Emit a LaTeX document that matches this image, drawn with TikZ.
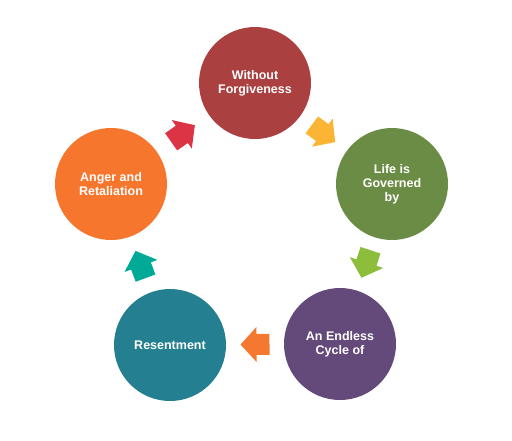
\documentclass[tikz,border=0pt]{standalone}
\usepackage{fontspec}
\setmainfont{Liberation Sans}
\usetikzlibrary{calc}
\definecolor{cred}{RGB}{170,64,64}
\definecolor{cgreen}{RGB}{107,140,68}
\definecolor{cpurple}{RGB}{100,74,122}
\definecolor{cteal}{RGB}{36,128,145}
\definecolor{corange}{RGB}{247,118,46}
\definecolor{ared}{RGB}{220,52,68}
\definecolor{ayellow}{RGB}{252,180,52}
\definecolor{agreen}{RGB}{140,190,60}
\definecolor{aorange}{RGB}{245,120,48}
\definecolor{ateal}{RGB}{0,170,150}
\newcommand\blockarr[3]{%
  \pgfmathanglebetweenpoints{\pgfpointanchor{#1}{center}}{\pgfpointanchor{#2}{center}}%
  \let\arang\pgfmathresult
  \fill[#3, shift={($(#1)!0.5!(#2)$)}, rotate=\arang]
    (-14.5,-10.5) -- (-1.5,-10.5) -- (-1.5,-17.5) -- (14.5,0) -- (-1.5,17.5) -- (-1.5,10.5) -- (-14.5,10.5) -- cycle;}
\begin{document}
\begin{tikzpicture}[x=1pt,y=-1pt,
  stage/.style={circle, minimum size=112pt, inner sep=0pt, text=white,
    font=\bfseries\fontsize{12.5}{14}\selectfont, align=center}]
\useasboundingbox (0,0) rectangle (512,440);
\node[stage, fill=cred]    (a) at (255,83)  {Without\\Forgiveness};
\node[stage, fill=cgreen]  (b) at (392,184) {Life is\\Governed\\by};
\node[stage, fill=cpurple] (c) at (340,344) {An Endless\\Cycle of};
\node[stage, fill=cteal]   (d) at (170,345) {Resentment};
\node[stage, fill=corange] (e) at (111,184) {Anger and\\Retaliation};
\blockarr{a}{b}{ayellow}
\blockarr{b}{c}{agreen}
\blockarr{c}{d}{aorange}
\blockarr{d}{e}{ateal}
\blockarr{e}{a}{ared}
\end{tikzpicture}
\end{document}
